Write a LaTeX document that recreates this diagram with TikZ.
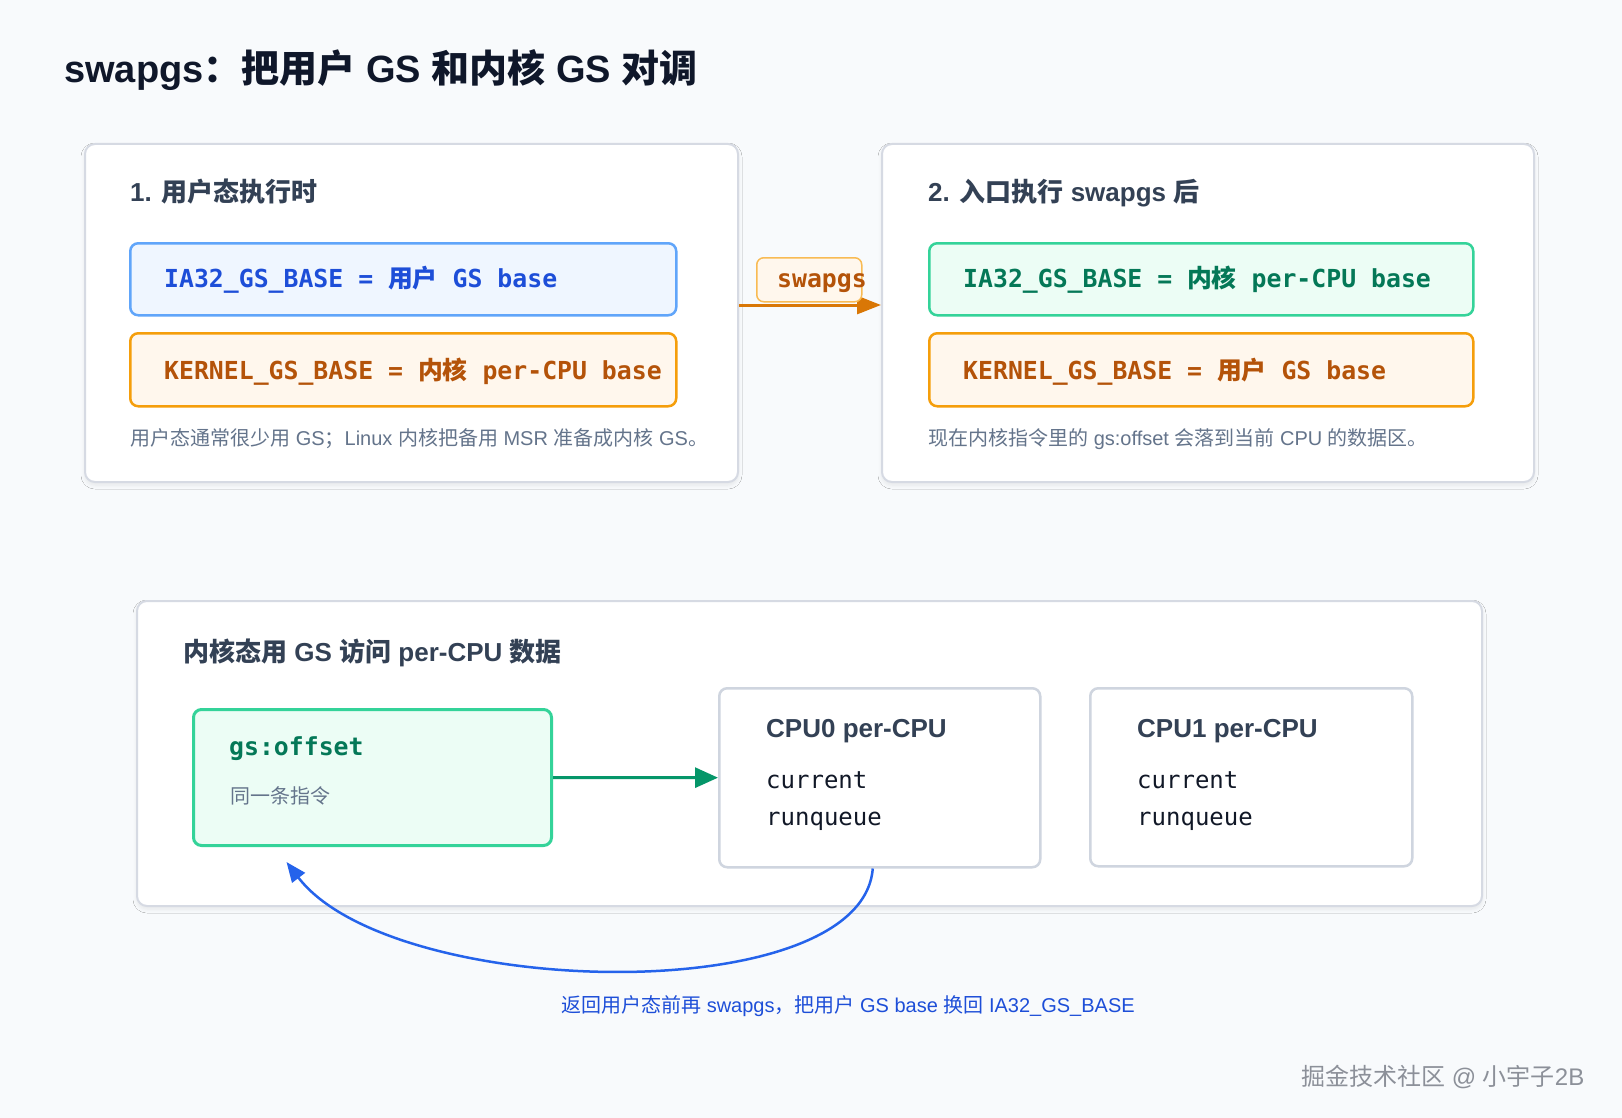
\documentclass[tikz,border=0pt]{standalone}
\usepackage{fontspec}
\setmainfont{Liberation Sans}
\setmonofont{DejaVu Sans Mono}
\newfontfamily\cjk{Noto Sans CJK SC}
\usetikzlibrary{arrows.meta,shadows.blur,calc}
\newcommand\zh[1]{{\cjk #1}}
\definecolor{bg}{HTML}{F8FAFC}
\definecolor{panelborder}{HTML}{D6DAE3}
\definecolor{titlec}{HTML}{0F172A}
\definecolor{headc}{HTML}{334155}
\definecolor{notec}{HTML}{64748B}
\definecolor{bluefill}{HTML}{EFF6FF}
\definecolor{blueborder}{HTML}{60A5FA}
\definecolor{bluetext}{HTML}{1D4ED8}
\definecolor{orangefill}{HTML}{FFF7ED}
\definecolor{orangeborder}{HTML}{F59E0B}
\definecolor{orangetext}{HTML}{B45309}
\definecolor{greenfill}{HTML}{ECFDF5}
\definecolor{greenborder}{HTML}{34D399}
\definecolor{greentext}{HTML}{047857}
\definecolor{orangearrow}{HTML}{D97706}
\definecolor{greenarrow}{HTML}{059669}
\definecolor{bluearrow}{HTML}{2563EB}
\definecolor{cpuborder}{HTML}{CFD5DF}
\definecolor{codec}{HTML}{111827}
\definecolor{wmark}{HTML}{8C9099}
\begin{document}
\begin{tikzpicture}[x=1pt,y=-1pt,
  panel/.style={draw=panelborder, line width=2pt, fill=white, rounded corners=10pt,
    blur shadow={shadow xshift=0pt, shadow yshift=-3pt, shadow blur radius=4pt, shadow opacity=8, shadow blur steps=6},
    inner sep=0pt, anchor=north west},
  regbox/.style={line width=2.5pt, rounded corners=8pt, inner sep=0pt, anchor=north west},
  bluebox/.style={regbox, draw=blueborder, fill=bluefill},
  orangebox/.style={regbox, draw=orangeborder, fill=orangefill},
  greenbox/.style={regbox, draw=greenborder, fill=greenfill},
  cpubox/.style={regbox, draw=cpuborder, fill=white},
  txt/.style={inner sep=0pt, anchor=base west},
  heading/.style={txt, text=headc, font=\fontsize{26}{30}\selectfont\bfseries},
  code/.style={txt, font=\fontsize{24.8}{28}\selectfont\ttfamily\bfseries},
  note/.style={txt, text=notec, font=\fontsize{20}{24}\selectfont},
  plaincode/.style={txt, text=codec, font=\fontsize{24}{28}\selectfont\ttfamily},
]
\fill[bg] (0,0) rectangle (1622,1118);
\useasboundingbox (0,0) rectangle (1622,1118);

% title
\node[txt, text=titlec, font=\fontsize{38}{44}\selectfont\bfseries] (title) at (64,83)
  {swapgs\zh{：把用户} GS \zh{和内核} GS \zh{对调}};

% panels
\node[panel, minimum width=653pt, minimum height=338pt] (p1) at (84,143) {};
\node[panel, minimum width=652pt, minimum height=338pt] (p2) at (881,143) {};
\node[panel, minimum width=1345pt, minimum height=305pt] (p3) at (136,600) {};

% panel 1
\node[heading] (h1) at (130,202) {1. \zh{用户态执行时}};
\node[bluebox, minimum width=546pt, minimum height=72pt] (b1) at (129,242) {};
\node[code, text=bluetext] (b1t) at (164,287) {IA32\_GS\_BASE = \zh{用户} GS base};
\node[orangebox, minimum width=546pt, minimum height=73pt] (o1) at (129,332) {};
\node[code, text=orangetext] (o1t) at (164,379) {KERNEL\_GS\_BASE = \zh{内核} per-CPU base};
\node[note] (n1) at (130,445) {\zh{用户态通常很少用} GS\zh{；}Linux \zh{内核把备用} MSR \zh{准备成内核} GS\zh{。}};

% panel 2
\node[heading] (h2) at (928,202) {2. \zh{入口执行} swapgs \zh{后}};
\node[greenbox, minimum width=544pt, minimum height=72pt] (g2) at (928,242) {};
\node[code, text=greentext] (g2t) at (963,287) {IA32\_GS\_BASE = \zh{内核} per-CPU base};
\node[orangebox, minimum width=544pt, minimum height=73pt] (o2) at (928,332) {};
\node[code, text=orangetext] (o2t) at (963,379) {KERNEL\_GS\_BASE = \zh{用户} GS base};
\node[note] (n2) at (928,445) {\zh{现在内核指令里的} gs:offset \zh{会落到当前} CPU \zh{的数据区。}};

% swapgs arrow
\draw[orangearrow, line width=3pt, -{Triangle[length=24pt,width=18pt]}]
  ([yshift=8pt]p1.east) -- ([yshift=8pt]p2.west);
\node[regbox, line width=1.5pt, draw=orangeborder!70, fill=orangefill, rounded corners=7pt,
  minimum width=105pt, minimum height=44pt] (lbl) at (756,257) {};
\node[code, text=orangetext] (lblt) at (777,287) {swapgs};

% panel 3
\node[heading] (h3) at (183,661) {\zh{内核态用} GS \zh{访问} per-CPU \zh{数据}};
\node[greenbox, line width=3pt, minimum width=358pt, minimum height=136pt] (gs) at (192,708) {};
\node[code, text=greentext] (gst) at (229,755) {gs:offset};
\node[note] (gsn) at (230,803) {\zh{同一条指令}};

\node[cpubox, minimum width=321pt, minimum height=179pt] (cpu0) at (718,687) {};
\node[heading] (c0h) at (766,737) {CPU0 per-CPU};
\node[plaincode] (c0a) at (766,788) {current};
\node[plaincode] (c0b) at (766,825) {runqueue};

\node[cpubox, minimum width=322pt, minimum height=178pt] (cpu1) at (1089,687) {};
\node[heading] (c1h) at (1137,737) {CPU1 per-CPU};
\node[plaincode] (c1a) at (1137,788) {current};
\node[plaincode] (c1b) at (1137,825) {runqueue};

% green arrow
\draw[greenarrow, line width=3pt, -{Triangle[length=23pt,width=20pt]}] (gs) -- (cpu0);

% blue return arrow
\coordinate (rettip) at ($(gs.south)+(-86,15)$);
\draw[bluearrow, line width=2.5pt, -{Triangle[length=20pt,width=16pt]}]
  ([xshift=-7pt]cpu0.south) .. controls (862,1010) and (392,1000) .. (rettip);
\node[note, text=bluetext] (retl) at (561,1012)
  {\zh{返回用户态前再} swapgs\zh{，把用户} GS base \zh{换回} IA32\_GS\_BASE};

% watermark
\node[txt, text=wmark, font=\fontsize{24}{28}\selectfont] (wm) at (1301,1085) {\zh{掘金技术社区} @ \zh{小宇子}2B};
\end{tikzpicture}
\end{document}
